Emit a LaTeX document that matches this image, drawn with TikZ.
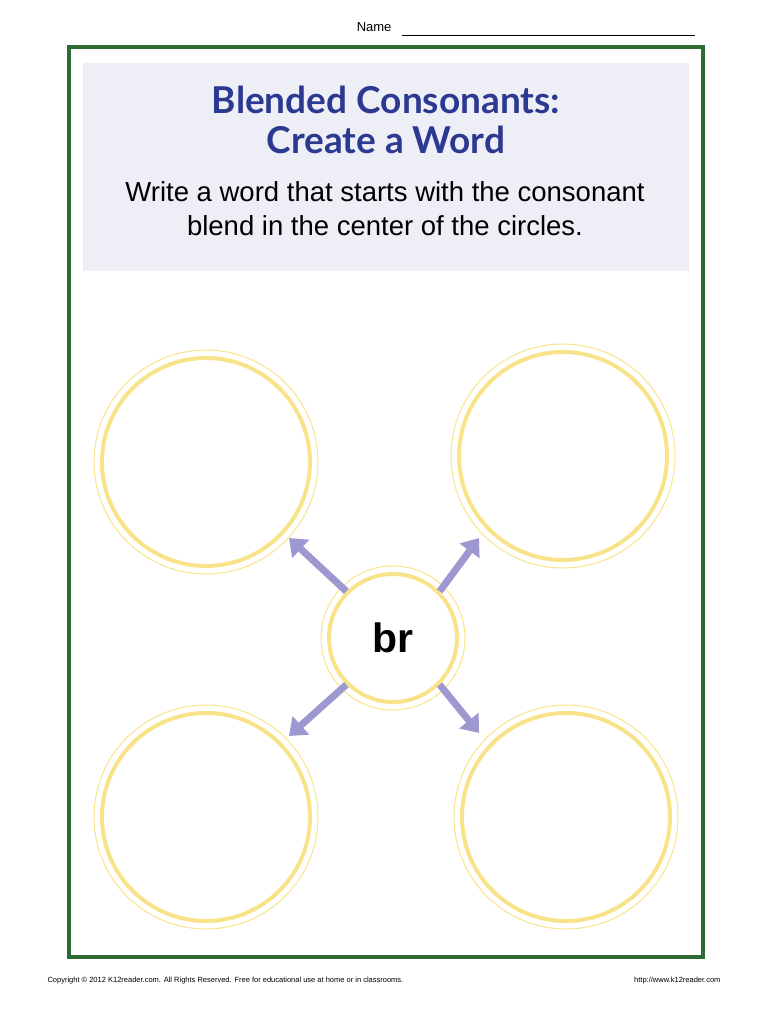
\documentclass[tikz,border=0pt]{standalone}
\usepackage{fontspec}
\setmainfont{Liberation Sans}
\newfontfamily\titlefont{Lato}
\usetikzlibrary{arrows.meta}
\definecolor{frameg}{HTML}{2E6B34}
\definecolor{hdr}{HTML}{EEEEF7}
\definecolor{ttl}{HTML}{2B3990}
\definecolor{ring}{HTML}{F9E38A}
\definecolor{arr}{HTML}{9E98D0}
\tikzset{
 bigc/.style={circle,draw=ring,line width=4pt,minimum size=208pt,inner sep=0pt},
 outc/.style={circle,draw=ring,line width=1pt,minimum size=224pt,inner sep=0pt},
 arrw/.style={draw=arr,line width=7pt,-{Triangle[width=24pt,length=16pt]}},
}
\begin{document}
\begin{tikzpicture}[x=1pt,y=-1pt]
\useasboundingbox (0,0) rectangle (768,1024);
\node[anchor=base east,font=\fontsize{13}{15}\selectfont] (nm) at (395,32) {Name};
\draw[line width=0.5pt] (402,35) coordinate (l1) -- (695,35) coordinate (l2);
\draw[frameg,line width=3.5pt] (69,47) rectangle (703,957);
\fill[hdr] (83,63) rectangle (689,271);
\node[font=\titlefont\bfseries\fontsize{37}{40}\selectfont,text=ttl,align=center] (t) at (386,120) {Blended Consonants:\\Create a Word};
\node[font=\fontsize{27.5}{34}\selectfont,align=center] (s) at (385,209) {Write a word that starts with the consonant\\blend in the center of the circles.};
\foreach \n/\p in {a/{(206,462)},b/{(563,456)},c/{(206,817)},d/{(566,817)}}{
 \node[outc] (o\n) at \p {};
 \node[bigc] (\n) at \p {};
}
\node[circle,draw=ring,line width=1pt,minimum size=144pt] (oc) at (393,638) {};
\node[circle,draw=ring,line width=4pt,minimum size=128pt,font=\bfseries\fontsize{41}{44}\selectfont] (ctr) at (393,638) {br};
\draw[arrw] (ctr.135) -- (289,538) coordinate (ta);
\draw[arrw] (ctr.45) -- (479,538) coordinate (tb);
\draw[arrw] (ctr.225) -- (289,736) coordinate (tc);
\draw[arrw] (ctr.-45) -- (479,733) coordinate (td);
\node[anchor=west,font=\fontsize{7.5}{9}\selectfont] (cp) at (44,981) {Copyright \textcopyright\ 2012 K12reader.com. All Rights Reserved. Free for educational use at home or in classrooms.};
\node[anchor=east,font=\fontsize{7.5}{9}\selectfont] (url) at (724,981) {http://www.k12reader.com};
\end{tikzpicture}
\end{document}
